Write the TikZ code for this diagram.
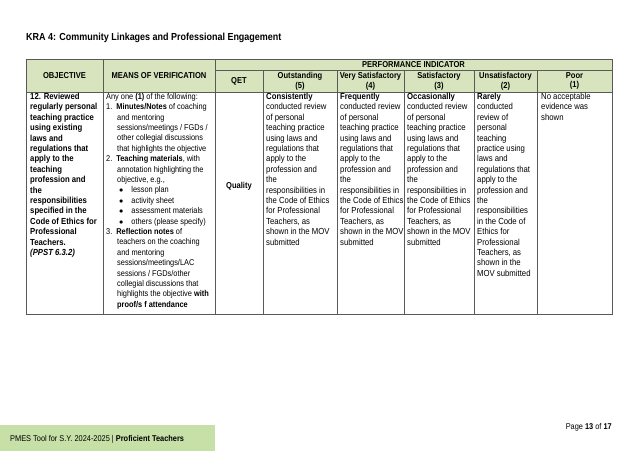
\documentclass[tikz,border=0pt]{standalone}
\usepackage{fontspec}
\setmainfont{Liberation Sans}[FakeStretch=0.88]
\begin{document}
\begin{tikzpicture}[x=1pt,y=-1pt,
  hdr/.style={fill=hdrgreen,draw=gray!70!black,line width=0.5pt},
  cell/.style={draw=gray!70!black,line width=0.5pt},
  txt/.style={anchor=north west,inner sep=0pt,align=left,font=\fontsize{8.8}{10.4}\selectfont},
  htxt/.style={inner sep=0pt,align=center,font=\fontsize{8.6}{9.8}\selectfont\bfseries}]
\definecolor{hdrgreen}{HTML}{D7E4BD}
\definecolor{footgreen}{HTML}{C6E0A8}
\useasboundingbox (0,0) rectangle (638,451);
\node[anchor=west,inner sep=0pt,font=\fontsize{10.2}{12}\selectfont\bfseries] (title) at (26,38) {KRA 4: Community Linkages and Professional Engagement};
% header
\draw[hdr] (26,59) rectangle (103,92);
\draw[hdr] (103,59) rectangle (215,92);
\draw[hdr] (215,59) rectangle (612,70);
\foreach \a/\b in {215/263,263/337,337/404,404/474,474/537,537/612}{\draw[hdr] (\a,70) rectangle (\b,92);}
\foreach \a/\b in {26/103,103/215,215/263,263/337,337/404,404/474,474/537,537/612}{\draw[cell] (\a,92) rectangle (\b,314);}
\node[htxt] (h1) at (64.5,75.5) {OBJECTIVE};
\node[htxt] (h2) at (159,75.5) {MEANS OF VERIFICATION};
\node[htxt] (h3) at (413.5,64.5) {PERFORMANCE INDICATOR};
\node[htxt] (h4) at (239,81) {QET};
\node[htxt] (h5) at (300,81) {Outstanding\\(5)};
\node[htxt] (h6) at (370.5,81) {Very Satisfactory\\(4)};
\node[htxt] (h7) at (439,81) {Satisfactory\\(3)};
\node[htxt] (h8) at (505.5,81) {Unsatisfactory\\(2)};
\node[htxt] (h9) at (574.5,81) {Poor\\(1)};
% body
\node[txt,font=\fontsize{8.8}{10.4}\selectfont\bfseries] (obj) at (30,93) {12. Reviewed\\regularly personal\\teaching practice\\using existing\\laws and\\regulations that\\apply to the\\teaching\\profession and\\the\\responsibilities\\specified in the\\Code of Ethics for\\Professional\\Teachers.\\\textit{(PPST 6.3.2)}};
\node[txt,font=\fontsize{8.4}{10.4}\selectfont] (mov) at (106,93) {Any one \textbf{(1)} of the following:\\
1.\hspace{4pt}\textbf{Minutes/Notes} of coaching\\
\hspace{11pt}and mentoring\\
\hspace{11pt}sessions/meetings / FGDs /\\
\hspace{11pt}other collegial discussions\\
\hspace{11pt}that highlights the objective\\
2.\hspace{4pt}\textbf{Teaching materials}, with\\
\hspace{11pt}annotation highlighting the\\
\hspace{11pt}objective, e.g.,\\
\hspace{13pt}$\bullet$\hspace{8pt}lesson plan\\
\hspace{13pt}$\bullet$\hspace{8pt}activity sheet\\
\hspace{13pt}$\bullet$\hspace{8pt}assessment materials\\
\hspace{13pt}$\bullet$\hspace{8pt}others (please specify)\\
3.\hspace{4pt}\textbf{Reflection notes} of\\
\hspace{11pt}teachers on the coaching\\
\hspace{11pt}and mentoring\\
\hspace{11pt}sessions/meetings/LAC\\
\hspace{11pt}sessions / FGDs/other\\
\hspace{11pt}collegial discussions that\\
\hspace{11pt}highlights the objective \textbf{with}\\
\hspace{11pt}\textbf{proof/s f attendance}};
\node[htxt] (q) at (239,186) {Quality};
\node[txt] (c5) at (266,93) {\textbf{Consistently}\\conducted review\\of personal\\teaching practice\\using laws and\\regulations that\\apply to the\\profession and\\the\\responsibilities in\\the Code of Ethics\\for Professional\\Teachers, as\\shown in the MOV\\submitted};
\node[txt] (c4) at (340,93) {\textbf{Frequently}\\conducted review\\of personal\\teaching practice\\using laws and\\regulations that\\apply to the\\profession and\\the\\responsibilities in\\the Code of Ethics\\for Professional\\Teachers, as\\shown in the MOV\\submitted};
\node[txt] (c3) at (407,93) {\textbf{Occasionally}\\conducted review\\of personal\\teaching practice\\using laws and\\regulations that\\apply to the\\profession and\\the\\responsibilities in\\the Code of Ethics\\for Professional\\Teachers, as\\shown in the MOV\\submitted};
\node[txt] (c2) at (477,93) {\textbf{Rarely}\\conducted\\review of\\personal\\teaching\\practice using\\laws and\\regulations that\\apply to the\\profession and\\the\\responsibilities\\in the Code of\\Ethics for\\Professional\\Teachers, as\\shown in the\\MOV submitted};
\node[txt] (c1) at (541,93) {No acceptable\\evidence was\\shown};
% footer
\node[anchor=east,inner sep=0pt,font=\fontsize{8.4}{10}\selectfont] (pg) at (612,427) {Page \textbf{13} of \textbf{17}};
\fill[footgreen] (0,425) rectangle (215,451);
\node[anchor=west,inner sep=0pt,font=\fontsize{8.4}{10}\selectfont] (ft) at (10,439) {PMES Tool for S.Y. 2024-2025 | \textbf{Proficient Teachers}};
\end{tikzpicture}
\end{document}
